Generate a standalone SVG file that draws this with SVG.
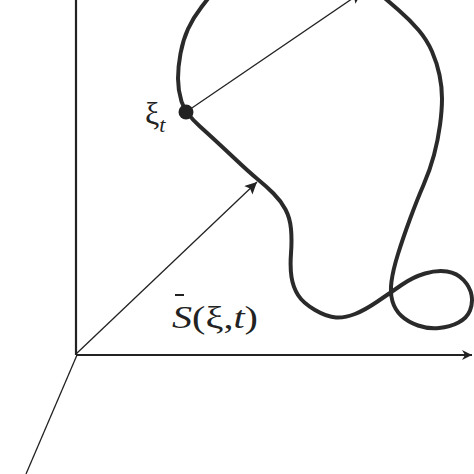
<svg xmlns="http://www.w3.org/2000/svg" width="474" height="474" viewBox="0 0 474 474">
<style>
.axis{stroke:#222;stroke-width:2.2;fill:none}
.thin{stroke:#222;stroke-width:1.3;fill:none}
.curve{stroke:#2a2a2a;stroke-width:4;fill:none;stroke-linecap:round;stroke-linejoin:round}
.lbl{font-family:"Liberation Serif","Times New Roman",serif;fill:#222}
</style>
<defs>
<marker id="ah" viewBox="0 0 10 10" refX="10" refY="5" markerWidth="12" markerHeight="10" markerUnits="userSpaceOnUse" orient="auto">
<path d="M0,0 L10,5 L0,10 L3,5 Z" fill="#222"/>
</marker>
<marker id="ahs" viewBox="0 0 10 10" refX="10" refY="5" markerWidth="14" markerHeight="12" markerUnits="userSpaceOnUse" orient="auto">
<path d="M0,0 L10,5 L0,10 L2,5 Z" fill="#222"/>
</marker>
</defs>
<g id="connectors">
<line class="axis" x1="76" y1="0" x2="76" y2="355"/>
<line class="axis" x1="76" y1="355" x2="472" y2="355" marker-end="url(#ah)"/>
<line class="thin" x1="77" y1="355" x2="26" y2="474"/>
<line class="thin" x1="76" y1="354" x2="257" y2="182" marker-end="url(#ahs)"/>
<line class="thin" x1="186" y1="112" x2="362" y2="-8" marker-end="url(#ahs)"/>
</g>
<g id="curve">
<path class="curve" d="M 210,-4 L 201.5,7 Q 193,18 188,29 Q 183,40 180.5,53.5 Q 178,67 178,78.5 Q 178,90 181.5,101.5 Q 185,113 200,126.5 Q 215,140 232.5,156.5 Q 250,173 258,179.5 Q 266,186 273.5,193.5 Q 281,201 285.5,209.5 Q 290,218 291,229 Q 292,240 291,253.5 Q 290,267 291.5,277 Q 293,287 298,295 Q 303,303 315,310 Q 327,317 336,317.5 Q 345,318 355,314 Q 365,310 377.5,301.5 Q 390,293 401.5,285 Q 413,277 425,273.5 Q 437,270 447,271.5 Q 457,273 463.5,280 Q 470,287 471.5,295 Q 473,303 470,310.5 Q 467,318 458.5,322.5 Q 450,327 439,328 Q 428,329 418,325.5 Q 408,322 401.5,316 Q 395,310 392.5,301.5 Q 390,293 391.5,281.5 Q 393,270 398,254 Q 403,238 410,219 Q 417,200 423.5,185 Q 430,170 434,155 Q 438,140 440,125 Q 442,110 442,98.5 Q 442,87 439.5,75 Q 437,63 432,51.5 Q 427,40 418.5,30 Q 410,20 398.5,10 Q 387,0 381,-5 L 375,-10"/>
</g>
<g id="point-xi">
<circle cx="186" cy="112" r="7.5" fill="#222"/>
<text class="lbl" x="145" y="124" font-size="32">ξ<tspan font-size="22" font-style="italic" dy="8">t</tspan></text>
</g>
<g id="label-S">
<text class="lbl" x="172" y="328" font-size="32" textLength="86" lengthAdjust="spacingAndGlyphs"><tspan font-style="italic">S</tspan>(ξ,<tspan font-style="italic">t</tspan>)</text>
<path d="M175,295 L184,295" stroke="#222" stroke-width="2"/>
</g>
</svg>
